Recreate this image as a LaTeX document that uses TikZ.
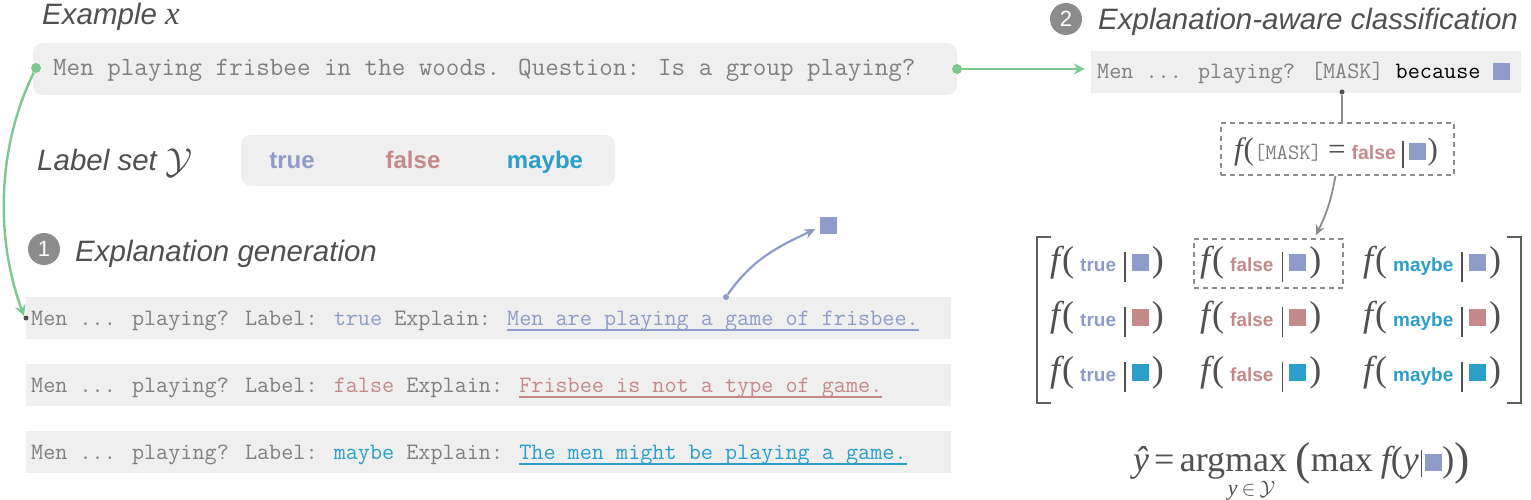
\documentclass[tikz,border=0pt]{standalone}
\usepackage{fontspec}
\setmainfont{Liberation Sans}
\newfontfamily\tms{Liberation Serif}
\usetikzlibrary{arrows.meta,calc}
\definecolor{lav}{RGB}{143,155,200}
\definecolor{rose}{RGB}{196,138,138}
\definecolor{teal}{RGB}{43,158,201}
\definecolor{grn}{RGB}{125,200,145}
\definecolor{boxg}{RGB}{239,239,239}
\definecolor{tgray}{RGB}{128,128,128}
\definecolor{dgray}{RGB}{80,80,80}
\definecolor{cgray}{RGB}{140,140,140}
\definecolor{bgray}{RGB}{95,95,95}
\newcommand\myfs[1]{\fontsize{#1}{#1}\selectfont}
\newcommand\myul[1]{\setbox0\hbox{#1}\rlap{\rule[-5.5pt]{\wd0}{1.1pt}}\box0}
\newcommand\sqbox[1]{\textcolor{#1}{\rule{17pt}{17pt}}}
\newcommand\vbarr{\textcolor{dgray}{\rule[-11pt]{1.8pt}{30pt}}}
\newcommand\fcell[3]{{\myfs{36}\tms\itshape f}\hspace{2pt}{\myfs{36}\tms (}\hspace{6pt}{\myfs{19}\bfseries\textcolor{#1}{#2}}\hspace{8pt}\vbarr\hspace{6pt}\sqbox{#3}\hspace{3pt}{\myfs{36}\tms )}}
\begin{document}
\begin{tikzpicture}[x=1pt,y=-1pt,
  ebox/.style={fill=boxg, rounded corners=10pt, inner sep=0pt},
  gbox/.style={fill=boxg, inner sep=0pt},
  mono/.style={font=\myfs{23.5}\ttfamily, text=tgray, inner sep=0pt},
  ttl/.style={font=\myfs{29.5}\itshape, text=dgray, inner sep=0pt},
  num/.style={circle, fill=cgray, text=white, minimum size=32pt, inner sep=0pt, font=\myfs{22}},
  gdot/.style={circle, fill=grn, minimum size=10pt, inner sep=0pt},
  sdot/.style={circle, fill=dgray, minimum size=5pt, inner sep=0pt},
  dbx/.style={draw=cgray, dash pattern=on 5pt off 4pt, line width=1.8pt, inner sep=0pt},
  brk/.style={line width=2.5pt, draw=bgray},
  lword/.style={font=\myfs{24}\bfseries, inner sep=0pt},
  garrow/.style={draw=grn, line width=2.4pt, -{Stealth[length=11pt,width=11pt]}},
  cell/.style={inner sep=0pt, text=dgray, anchor=base west}
]
\useasboundingbox (0,0) rectangle (1531,500);

% ---------- Example x ----------
\node[ttl, anchor=base west] (extitle) at (42,25) {Example {\myfs{33}\tms\itshape x}};
\node[ebox, minimum width=924pt, minimum height=52pt] (exbox) at (495,69) {};
\node[mono, font=\myfs{26.3}\ttfamily, anchor=base west] (extext) at (53,76) {Men playing frisbee in the woods. Question: Is a group playing?};
\node[gdot] (d1) at (36,68) {};
\node[gdot] (d2) at (957,69) {};

% ---------- Label set ----------
\node[ttl, anchor=base west] (lstitle) at (37,171) {Label set \raisebox{-2pt}{\scalebox{1.45}{$\mathcal{Y}$}}};
\node[ebox, minimum width=374pt, minimum height=51pt] (lbox) at (428,160.5) {};
\node[lword, text=lav, anchor=base] (ltrue) at (292,168) {true};
\node[lword, text=rose, anchor=base] (lfalse) at (413,168) {false};
\node[lword, text=teal, anchor=base] (lmaybe) at (545,168) {maybe};

% ---------- Explanation generation ----------
\node[num] (n1) at (44,249) {1};
\node[ttl, anchor=base west] (gtitle) at (75,261) {Explanation generation};

\node[gbox, minimum width=925pt, minimum height=42pt] (g1) at (488.5,318) {};
\node[gbox, minimum width=925pt, minimum height=42pt] (g2) at (488.5,385) {};
\node[gbox, minimum width=925pt, minimum height=42pt] (g3) at (488.5,452) {};
\node[mono, anchor=base west] (t1) at (31,325) {Men ... playing? Label: \textcolor{lav}{true} Explain: \textcolor{lav}{\myul{Men are playing a game of frisbee.}}};
\node[mono, anchor=base west] (t2) at (31,392) {Men ... playing? Label: \textcolor{rose}{false} Explain: \textcolor{rose}{\myul{Frisbee is not a type of game.}}};
\node[mono, anchor=base west] (t3) at (31,459) {Men ... playing? Label: \textcolor{teal}{maybe} Explain: \textcolor{teal}{\myul{The men might be playing a game.}}};
\node[sdot] (gd0) at (26,318) {};

\draw[garrow] (d1) .. controls (-4,150) and (-4,240) .. (gd0.north west);

\node[circle, fill=lav, minimum size=6pt, inner sep=0pt] (bdot) at (726,297) {};
\node[fill=lav, minimum size=17pt, inner sep=0pt] (bsq) at (828,225.5) {};
\coordinate (bsqin) at ($(bsq.south west)+(-4,-5)$);
\draw[draw=lav, line width=2.2pt, -{Stealth[length=11pt,width=10pt]}] (bdot) to[out=55, in=205] (bsqin);

% ---------- Explanation-aware classification ----------
\node[num] (n2) at (1066,19) {2};
\node[ttl, anchor=base west] (ctitle) at (1098,30) {Explanation-aware classification};
\node[gbox, minimum width=430pt, minimum height=42pt] (clbox) at (1306,72) {};
\node[mono, anchor=base west] (cltext) at (1097,79) {Men ... playing? [MASK] \textcolor{black}{because} \raisebox{-1pt}{\sqbox{lav}}};
\draw[garrow] (d2) -- ([xshift=-6pt]d2 -| clbox.west);

\node[sdot] (cdot) at (1342,92) {};
\node[dbx, minimum width=233pt, minimum height=52pt] (dbox) at (1337.5,149) {};
\node[inner sep=0pt, text=dgray, anchor=base] (dtext) at (1336,160) {{\myfs{31}\tms\itshape f}\hspace{1pt}{\myfs{31}\tms (}{\myfs{22}\ttfamily\color{tgray}[MASK]}\hspace{6pt}{\myfs{31}\tms =}\hspace{6pt}{\myfs{19.5}\bfseries\textcolor{rose}{false}}\hspace{6pt}\textcolor{dgray}{\rule[-8pt]{1.6pt}{27pt}}\hspace{5pt}\sqbox{lav}\hspace{2pt}{\myfs{31}\tms )}};
\draw[draw=cgray, line width=1.8pt] (cdot) -- (cdot |- dbox.north);

% matrix
\node[dbx, minimum width=149pt, minimum height=49pt] (cbox) at (1268.5,263.5) {};
\draw[draw=cgray, line width=1.8pt, -{Stealth[length=10pt,width=9pt]}] ([xshift=-2pt]dbox.south) to[bend left=8] ($(cbox.north east)+(-28,-3)$);

\draw[brk] (1051,237) -- (1037,237) -- (1037,403) -- (1051,403);
\draw[brk] (1507,237) -- (1521,237) -- (1521,403) -- (1507,403);

\node[cell] (c11) at (1050,271) {\fcell{lav}{true}{lav}};
\node[cell] (c12) at (1200,271) {\fcell{rose}{false}{lav}};
\node[cell] (c13) at (1363,271) {\fcell{teal}{maybe}{lav}};
\node[cell] (c21) at (1050,326) {\fcell{lav}{true}{rose}};
\node[cell] (c22) at (1200,326) {\fcell{rose}{false}{rose}};
\node[cell] (c23) at (1363,326) {\fcell{teal}{maybe}{rose}};
\node[cell] (c31) at (1050,381) {\fcell{lav}{true}{teal}};
\node[cell] (c32) at (1200,381) {\fcell{rose}{false}{teal}};
\node[cell] (c33) at (1363,381) {\fcell{teal}{maybe}{teal}};

% formula
\node[cell, font=\myfs{36}\tms] (fyhat) at (1133,471) {{\itshape ŷ}\hspace{5pt}=};
\node[cell, font=\myfs{36}\tms] (famax) at ([xshift=5pt]fyhat.base east) {argmax};
\node[inner sep=0pt, text=dgray, anchor=north, font=\myfs{22}\tms] (fsub) at ([xshift=18pt,yshift=-10pt]famax.base) {{\itshape y}\hspace{4pt}$\in$\hspace{4pt}$\mathcal{Y}$};
\node[cell, font=\myfs{36}\tms] (frest) at ([xshift=8pt]famax.base east) {\raisebox{-3pt}{\myfs{46}(}max\hspace{8pt}{\itshape f}({\itshape y}\hspace{2pt}\textcolor{dgray}{\rule[-6pt]{1.6pt}{27pt}}\hspace{3pt}\sqbox{lav})\raisebox{-3pt}{\myfs{46})}};
\end{tikzpicture}
\end{document}
